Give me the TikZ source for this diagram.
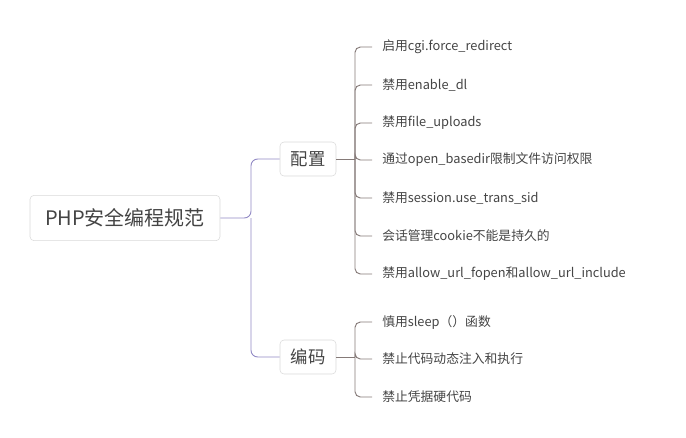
\documentclass[tikz,border=0pt]{standalone}
\usepackage{fontspec}
\setmainfont{Noto Sans CJK SC}
\usetikzlibrary{positioning}
\definecolor{txtgray}{HTML}{444444}
\definecolor{lngray}{HTML}{857A78}
\definecolor{lnpurple}{HTML}{9189C4}

\begin{document}
\begin{tikzpicture}[
    x=0.75pt, y=-0.75pt,
    topic/.style={rectangle, draw=black!15, rounded corners=3pt, fill=white, text=txtgray, align=center, inner sep=0pt},
    leaf/.style={anchor=west, text=txtgray, font=\fontsize{9.6}{11}\selectfont, inner sep=0pt},
    branch/.style={draw=lngray, line width=0.7pt, rounded corners=4pt},
    trunk/.style={draw=lnpurple, line width=0.7pt, rounded corners=5pt}
]
\useasboundingbox (0,0) rectangle (686,437);

% Root and main topics
\node[topic, minimum width=142.5pt, minimum height=34pt, font=\fontsize{15}{18}\selectfont] (root) at (125,218) {PHP安全编程规范};
\node[topic, minimum width=42pt, minimum height=25.5pt, font=\fontsize{13}{16}\selectfont] (config) at (308,159) {配置};
\node[topic, minimum width=42pt, minimum height=25.5pt, font=\fontsize{13}{16}\selectfont] (code) at (308,357) {编码};

% Leaves of config
\node[leaf] (c1) at (382,47) {启用cgi.force\_redirect};
\node[leaf] (c2) at (382,85) {禁用enable\_dl};
\node[leaf] (c3) at (382,123) {禁用file\_uploads};
\node[leaf] (c4) at (382,160) {通过open\_basedir限制文件访问权限};
\node[leaf] (c5) at (382,198) {禁用session.use\_trans\_sid};
\node[leaf] (c6) at (382,236) {会话管理cookie不能是持久的};
\node[leaf] (c7) at (382,274) {禁用allow\_url\_fopen和allow\_url\_include};

% Leaves of code
\node[leaf] (d1) at (382,322) {慎用sleep（）函数};
\node[leaf] (d2) at (382,359) {禁止代码动态注入和执行};
\node[leaf] (d3) at (382,397) {禁止凭据硬代码};

% Root connectors
\coordinate (rj) at (251,218);
\draw[trunk] (root.east) -- (rj) |- (config.west);
\draw[trunk] (rj) |- (code.west);

% Config connectors
\coordinate (cj) at (355,159);
\draw[branch] (config.east) -- (cj);
\foreach \n in {c1,c2,c3,c4,c5,c6,c7}
    \draw[branch] (cj) |- ([xshift=-7.5pt]\n.west);

% Code connectors
\coordinate (dj) at (355,357);
\draw[branch] (code.east) -- (dj);
\foreach \n in {d1,d2,d3}
    \draw[branch] (dj) |- ([xshift=-7.5pt]\n.west);

\end{tikzpicture}
\end{document}
